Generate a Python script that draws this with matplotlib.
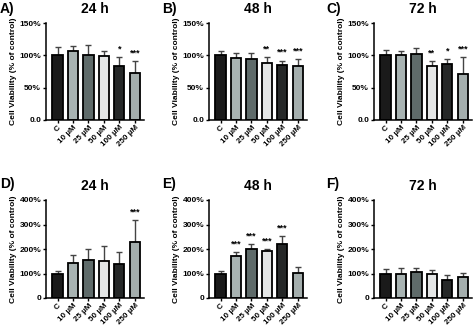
import matplotlib
matplotlib.use('Agg')
import matplotlib.pyplot as plt
import numpy as np

plt.rcParams['font.family'] = ['Liberation Sans', 'DejaVu Sans']
plt.rcParams['font.weight'] = 'bold'

#%% data
doses = ['C', '10 \u00b5M', '25 \u00b5M', '50 \u00b5M', '100 \u00b5M', '250 \u00b5M']
barCols = ['#1a1a1a', '#a8b3b2', '#5f6b6a', '#e4e6e6', '#262828', '#a4aead']

# top row (A-C), % of control
meanA = [100, 106, 101, 99, 84, 72]
errA = [13, 9, 15, 7, 13, 19]
starA = ['', '', '', '', '*', '***']

meanB = [100, 96, 95, 88, 85, 84]
errB = [6, 8, 8, 10, 7, 10]
starB = ['', '', '', '**', '***', '***']

meanC = [100, 100, 102, 84, 86, 71]
errC = [8, 6, 10, 7, 9, 26]
starC = ['', '', '', '**', '*', '***']

# bottom row (D-F)
meanD = [100, 144, 156, 152, 139, 229]
errD = [12, 33, 45, 59, 49, 88]
starD = ['', '', '', '', '', '***']

meanE = [100, 173, 201, 190, 219, 101]
errE = [10, 15, 18, 10, 35, 24]
starE = ['', '***', '***', '***', '***', '']

meanF = [100, 100, 107, 100, 73, 86]
errF = [17, 22, 14, 16, 19, 16]
starF = ['', '', '', '', '', '']

titles = ['24 h', '48 h', '72 h', '24 h', '48 h', '72 h']
letters = ['A)', 'B)', 'C)', 'D)', 'E)', 'F)']
topTicks = [0, 50, 100, 150]
topTickLabels = ['0.0', '50%', '100%', '150%']
botTicks = [0, 100, 200, 300, 400]
botTickLabels = ['0', '100%', '200%', '300%', '400%']

#%% figure
W, H = 474, 327
fig = plt.figure(figsize=(W / 100, H / 100), dpi=100)

lefts = [46, 209, 374]
axW = 98
panels = [(meanA, errA, starA), (meanB, errB, starB), (meanC, errC, starC),
          (meanD, errD, starD), (meanE, errE, starE), (meanF, errF, starF)]

for i, (m, e, s) in enumerate(panels):
    row = i // 3
    col = i % 3
    if row == 0:
        yb, yt = 120, 23
        ticks, tlabs, ymax = topTicks, topTickLabels, 150
    else:
        yb, yt = 298, 200
        ticks, tlabs, ymax = botTicks, botTickLabels, 400
    ax = fig.add_axes([lefts[col] / W, 1 - yb / H, axW / W, (yb - yt) / H])
    x = np.arange(len(doses))
    ax.bar(x, m, width=0.66, color=barCols, edgecolor='black', linewidth=1.3, zorder=2)
    ax.errorbar(x, m, yerr=[np.zeros(len(e)), e], fmt='none', ecolor='#444444',
                elinewidth=1.0, capsize=2.2, capthick=1.0, zorder=1)
    for xi, mi, ei, si in zip(x, m, e, s):
        if si:
            ax.annotate(si, (xi, mi + ei), xytext=(0, 2.5), textcoords='offset points',
                        ha='center', va='bottom', fontsize=6.5, fontweight='bold')
    ax.set_xlim(-0.75, 5.6)
    ax.set_ylim(0, ymax)
    ax.set_yticks(ticks)
    ax.set_yticklabels(tlabs, fontsize=6, fontweight='bold')
    ax.set_xticks(x)
    ax.set_xticklabels(doses, rotation=45, ha='right', rotation_mode='anchor',
                       fontsize=5.8, fontweight='bold')
    ax.spines['top'].set_visible(False)
    ax.spines['right'].set_visible(False)
    ax.spines['left'].set_linewidth(1.1)
    ax.spines['bottom'].set_linewidth(1.1)
    ax.tick_params(length=2.5, width=1.0, pad=1)
    ax.tick_params(axis='x', pad=0.5)
    ax.set_ylabel('Cell Viability (% of control)', fontsize=6, fontweight='bold', labelpad=1.5)
    ax.set_title(titles[i], fontsize=10, fontweight='bold', pad=7)
    # panel letters
    ty = 9 if row == 0 else 184
    lx = [0, 162, 326][col]
    fig.text(lx / W, 1 - ty / H, letters[i], fontsize=10, fontweight='bold',
             ha='left', va='center')

fig.savefig('out.png', dpi=100)
